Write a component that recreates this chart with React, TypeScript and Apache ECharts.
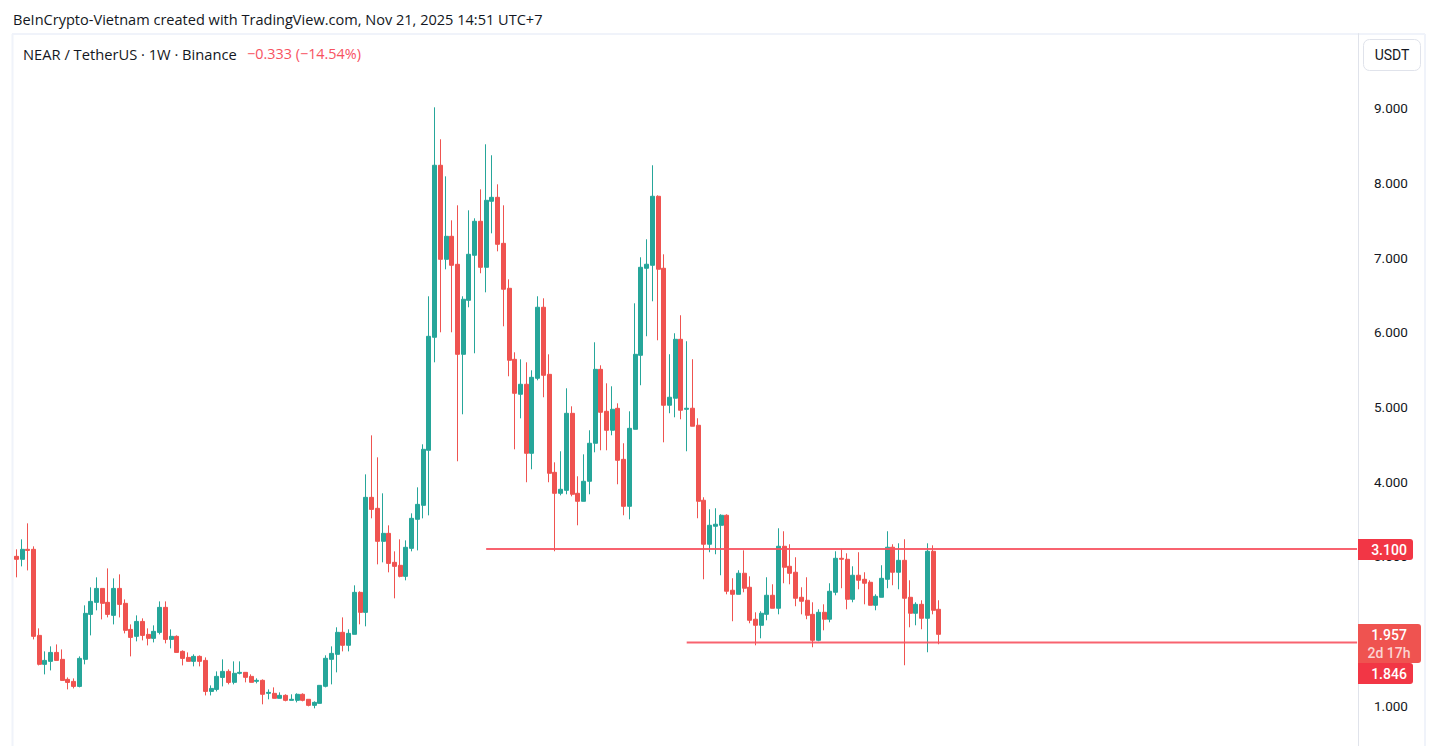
import { useEffect, useRef } from 'react'
import * as echarts from 'echarts'

// weekly candles
const opens = [
  3.001, 2.961, 3.095, 3.095, 1.943, 1.555, 1.595, 1.715, 1.622, 1.354,
  1.327, 1.26, 1.622, 2.224, 2.385, 2.572, 2.385, 2.211, 2.572, 2.372,
  2.023, 1.93, 2.13, 1.956, 1.903, 1.983, 2.318, 1.889, 1.93, 1.729,
  1.648, 1.595, 1.662, 1.608, 1.193, 1.22, 1.38, 1.461, 1.314, 1.435,
  1.448, 1.394, 1.328, 1.341, 1.167, 1.167, 1.1, 1.14, 1.073, 1.073,
  1.154, 1.087, 1.006, 1.033, 1.261, 1.622, 1.689, 1.984, 1.81, 1.957,
  2.519, 2.251, 3.791, 3.644, 3.202, 3.309, 2.921, 2.881, 2.733, 3.108,
  3.497, 3.684, 4.421, 5.934, 8.237, 6.978, 7.286, 6.911, 5.706, 6.429,
  7.032, 7.487, 6.871, 7.755, 7.808, 7.192, 6.59, 5.639, 5.171, 5.305,
  4.381, 5.385, 6.336, 5.438, 4.126, 3.845, 3.885, 4.916, 3.845, 3.738,
  4.006, 4.515, 5.505, 4.943, 4.689, 4.983, 4.3, 3.671, 4.702, 5.693,
  6.858, 6.898, 7.822, 6.858, 5.024, 5.118, 5.907, 4.97, 4.984, 4.756,
  3.752, 3.163, 3.404, 3.417, 3.551, 2.547, 2.493, 2.775, 2.587, 2.159,
  2.078, 2.225, 2.48, 2.306, 3.136, 2.868, 2.788, 2.453, 2.413, 2.225,
  1.877, 2.252, 2.159, 2.52, 2.975, 2.962, 2.426, 2.748, 2.694, 2.654,
  2.346, 2.453, 2.694, 3.123, 2.788, 2.948, 2.453, 2.239, 2.359, 2.172,
  3.069, 2.292,
]
const closes = [
  2.961, 3.095, 3.081, 1.93, 1.555, 1.608, 1.715, 1.608, 1.34, 1.313,
  1.26, 1.635, 2.238, 2.398, 2.572, 2.372, 2.224, 2.572, 2.358, 2.01,
  1.916, 2.13, 1.943, 1.903, 1.997, 2.318, 1.889, 1.93, 1.715, 1.635,
  1.595, 1.662, 1.595, 1.193, 1.233, 1.394, 1.461, 1.313, 1.435, 1.448,
  1.381, 1.314, 1.341, 1.154, 1.18, 1.1, 1.14, 1.073, 1.087, 1.154,
  1.073, 1.006, 1.046, 1.274, 1.636, 1.702, 1.984, 1.81, 1.97, 2.519,
  2.251, 3.791, 3.63, 3.202, 3.309, 2.907, 2.867, 2.733, 3.122, 3.51,
  3.697, 4.434, 5.947, 8.237, 6.978, 7.286, 6.898, 5.706, 6.443, 7.045,
  7.487, 6.871, 7.768, 7.808, 7.179, 6.577, 5.626, 5.184, 5.305, 4.381,
  5.398, 6.336, 5.425, 4.113, 3.845, 3.899, 4.916, 3.832, 3.738, 4.006,
  4.515, 5.505, 4.93, 4.689, 4.97, 4.287, 3.671, 4.715, 5.706, 6.871,
  6.912, 7.822, 6.845, 5.024, 5.131, 5.907, 4.957, 4.984, 4.743, 3.738,
  3.163, 3.417, 3.431, 3.551, 2.534, 2.493, 2.775, 2.574, 2.145, 2.078,
  2.239, 2.48, 2.306, 3.136, 2.855, 2.774, 2.44, 2.4, 2.212, 1.877,
  2.252, 2.159, 2.533, 2.975, 2.962, 2.426, 2.748, 2.681, 2.641, 2.346,
  2.466, 2.707, 3.123, 2.788, 2.948, 2.44, 2.239, 2.359, 2.172, 3.069,
  2.279, 1.957,
]
const lows = [
  2.72, 2.867, 2.813, 1.889, 1.541, 1.421, 1.474, 1.608, 1.34, 1.22,
  1.233, 1.247, 1.555, 1.943, 2.278, 2.157, 2.184, 2.09, 2.184, 1.97,
  1.662, 1.863, 1.876, 1.809, 1.849, 1.956, 1.836, 1.769, 1.715, 1.541,
  1.595, 1.528, 1.528, 1.139, 1.139, 1.193, 1.26, 1.287, 1.287, 1.421,
  1.314, 1.314, 1.301, 1.02, 1.087, 1.1, 1.1, 1.06, 1.073, 1.046,
  1.06, 0.993, 0.966, 1.033, 1.247, 1.287, 1.448, 1.729, 1.729, 1.957,
  2.091, 2.064, 3.51, 2.894, 2.921, 2.787, 2.439, 2.72, 2.68, 3.068,
  3.081, 3.51, 3.55, 5.599, 6.001, 6.844, 6.001, 4.274, 4.903, 6.336,
  5.72, 6.791, 6.536, 7.326, 7.085, 6.081, 5.412, 4.434, 4.849, 3.993,
  4.167, 5.358, 5.131, 3.993, 3.069, 3.818, 3.832, 3.805, 3.417, 3.738,
  3.832, 4.394, 4.421, 4.421, 4.622, 3.966, 3.551, 3.497, 4.702, 5.292,
  5.948, 6.416, 5.894, 4.528, 4.917, 4.863, 4.836, 4.408, 4.743, 3.511,
  2.694, 3.056, 3.029, 2.748, 2.493, 2.132, 2.493, 2.52, 2.105, 1.81,
  1.904, 2.145, 2.306, 2.225, 2.641, 2.627, 2.333, 2.225, 2.159, 1.784,
  1.864, 2.011, 2.118, 2.48, 2.574, 2.292, 2.386, 2.56, 2.359, 2.346,
  2.279, 2.453, 2.574, 2.614, 2.56, 1.543, 2.051, 2.078, 2.025, 1.717,
  2.225, 1.824,
]
const highs = [
  3.095, 3.229, 3.443, 3.135, 2.037, 1.729, 1.796, 1.822, 1.755, 1.38,
  1.367, 1.662, 2.345, 2.586, 2.72, 2.572, 2.84, 2.706, 2.76, 2.425,
  2.09, 2.211, 2.171, 2.037, 2.077, 2.398, 2.398, 2.023, 1.943, 1.742,
  1.715, 1.689, 1.675, 1.648, 1.273, 1.461, 1.622, 1.488, 1.595, 1.595,
  1.448, 1.421, 1.368, 1.354, 1.22, 1.247, 1.18, 1.154, 1.154, 1.167,
  1.167, 1.087, 1.06, 1.274, 1.676, 1.796, 2.051, 2.184, 2.024, 2.613,
  2.533, 4.099, 4.621, 4.327, 3.845, 3.416, 3.068, 3.229, 3.215, 3.577,
  3.925, 4.501, 6.483, 9.013, 8.585, 8.089, 7.5, 7.701, 6.483, 7.634,
  7.527, 7.915, 8.518, 8.371, 7.982, 7.701, 6.71, 5.733, 5.639, 5.599,
  5.492, 6.483, 6.456, 5.706, 4.26, 4.408, 5.251, 5.01, 4.073, 4.367,
  4.689, 5.867, 5.559, 5.318, 5.278, 5.05, 4.515, 4.943, 6.389, 7.005,
  7.246, 8.237, 7.835, 7.045, 5.707, 5.988, 6.229, 5.881, 5.64, 4.85,
  3.792, 3.631, 3.645, 3.564, 3.564, 2.708, 2.815, 3.082, 2.734, 2.252,
  2.266, 2.721, 2.627, 3.377, 3.337, 3.163, 2.989, 2.587, 2.721, 2.386,
  2.292, 2.359, 2.641, 3.069, 3.096, 3.042, 2.868, 3.056, 2.788, 2.68,
  2.493, 2.882, 3.337, 3.163, 3.176, 3.23, 2.681, 2.386, 2.413, 3.176,
  3.149, 2.413,
]

const tickLabels = [1, 3, 4, 5, 6, 7, 8, 9]

// empty weeks to the right of the last candle
const slotCount = 235
const categories = Array.from({ length: slotCount }, (_, i) => `W${i + 1}`)

const resistance = 3.1
const resistanceFrom = 82
const support = 1.846
const supportFrom = 117

const UP = '#26a69a'
const DOWN = '#ef5350'
const LEVEL = '#f7525f'
const TAG = '#f23645'
const TEXT = '#131722'
const FONT = '"Open Sans", Roboto, sans-serif'
const AXIS_FONT = 'Roboto, sans-serif'

export default function App() {
  const chartRef = useRef<HTMLDivElement>(null)

  useEffect(() => {
    if (!chartRef.current) return
    const chart = echarts.init(chartRef.current, undefined, { renderer: 'svg' })

    const levelLine = (value: number, from: number) =>
      categories.map((_, i) => (i >= from ? value : null))

    const priceTag = (y: number, height: number, width: number, color: string) => ({
      type: 'rect',
      z: 50,
      shape: { x: 1358, y, width, height, r: [0, 3, 3, 0] },
      style: { fill: color },
    })
    const tagText = (y: number, text: string, fill = '#ffffff') => ({
      type: 'text',
      z: 51,
      x: 1389,
      y,
      style: { text, fill, font: `500 14px ${AXIS_FONT}`, align: 'center', verticalAlign: 'middle' },
    })

    chart.setOption({
      animation: false,
      backgroundColor: '#ffffff',
      grid: { left: 13.43, top: 33.6, width: 1346.55, height: 746.9 },
      xAxis: {
        type: 'category',
        data: categories,
        boundaryGap: true,
        axisLine: { show: false },
        axisTick: { show: false },
        axisLabel: { show: false },
        splitLine: { show: false },
      },
      yAxis: {
        type: 'value',
        position: 'right',
        offset: -2,
        min: 0,
        max: 10,
        interval: 1,
        axisLine: { show: true, lineStyle: { color: '#e0e3eb', width: 1 } },
        axisTick: { show: false },
        splitLine: { show: false },
        axisLabel: {
          customValues: tickLabels,
          formatter: (v: number) => v.toFixed(3),
          color: TEXT,
          fontFamily: AXIS_FONT,
          fontSize: 13.5,
          margin: 16,
        },
      },
      series: [
        {
          type: 'candlestick',
          barWidth: 4.5,
          data: opens.map((o, i) => [o, closes[i], lows[i], highs[i]]),
          itemStyle: {
            color: UP,
            color0: DOWN,
            borderColor: UP,
            borderColor0: DOWN,
            borderWidth: 1,
          },
        },
        {
          type: 'line',
          data: levelLine(resistance, resistanceFrom),
          symbol: 'none',
          silent: true,
          lineStyle: { color: LEVEL, width: 2, opacity: 0.9 },
          z: 5,
        },
        {
          type: 'line',
          data: levelLine(support, supportFrom),
          symbol: 'none',
          silent: true,
          lineStyle: { color: LEVEL, width: 2, opacity: 0.9 },
          z: 5,
        },
      ],
      graphic: [
        {
          type: 'text',
          x: 13,
          y: 19,
          style: {
            text: 'BeInCrypto-Vietnam created with TradingView.com, Nov 21, 2025 14:51 UTC+7',
            fill: TEXT,
            font: `14.55px ${FONT}`,
            verticalAlign: 'middle',
          },
        },
        {
          type: 'text',
          x: 23,
          y: 53.5,
          style: {
            text: 'NEAR / TetherUS · 1W · Binance',
            fill: TEXT,
            font: `14.7px ${FONT}`,
            verticalAlign: 'middle',
          },
        },
        {
          type: 'text',
          x: 247,
          y: 53.5,
          style: {
            text: '−0.333 (−14.54%)',
            fill: LEVEL,
            font: `14.4px ${FONT}`,
            verticalAlign: 'middle',
          },
        },
        // pane frame
        { type: 'line', shape: { x1: 12, y1: 34, x2: 1425, y2: 34 }, style: { stroke: '#f0f3fa', lineWidth: 2 } },
        { type: 'line', shape: { x1: 12.5, y1: 34, x2: 12.5, y2: 746 }, style: { stroke: '#f0f3fa', lineWidth: 2 } },
        { type: 'line', shape: { x1: 1425, y1: 34, x2: 1425, y2: 746 }, style: { stroke: '#f0f3fa', lineWidth: 2 } },
        // currency button
        {
          type: 'rect',
          shape: { x: 1363.5, y: 39.5, width: 57, height: 31, r: 6 },
          style: { fill: '#ffffff', stroke: '#e0e3eb', lineWidth: 1 },
        },
        {
          type: 'text',
          x: 1392,
          y: 55,
          style: { text: 'USDT', fill: TEXT, font: `14px ${AXIS_FONT}`, align: 'center', verticalAlign: 'middle' },
        },
        // price tags on the axis
        priceTag(539, 21, 55, TAG),
        tagText(549.5, '3.100'),
        priceTag(663, 21, 55, TAG),
        tagText(674, '1.846'),
        priceTag(624, 39, 63, DOWN),
        tagText(634.5, '1.957'),
        tagText(653, '2d 17h', '#fbd3d2'),
      ],
    })

    return () => {
      chart.dispose()
    }
  }, [])

  return (
    <div
      style={{
        position: 'fixed',
        left: 0,
        top: 0,
        width: 1438,
        height: 746,
        overflow: 'hidden',
        background: '#ffffff',
      }}
    >
      <div ref={chartRef} style={{ width: 1438, height: 781 }} />
    </div>
  )
}
